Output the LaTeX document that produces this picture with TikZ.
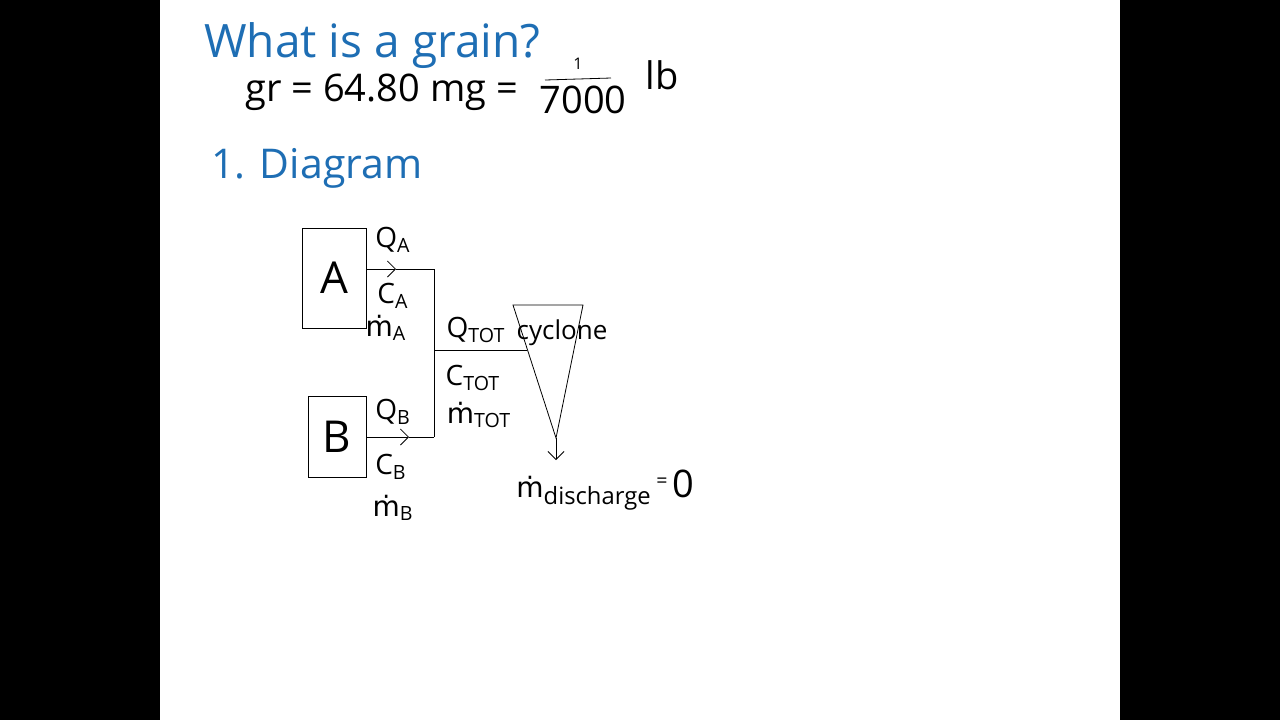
\documentclass[tikz,border=0pt]{standalone}
\usepackage{fontspec}
\setmainfont{Open Sans}
\newfontfamily\dotfont{DejaVu Sans}
\usetikzlibrary{arrows.meta}
\definecolor{inkblue}{RGB}{30,110,180}
\newcommand{\mdot}{{\dotfont ṁ}}
\tikzset{>={Straight Barb[length=4pt,width=8pt]},line width=1pt}
\tikzset{head/.style={text=inkblue,font=\fontsize{23}{25}\selectfont,inner sep=0pt},
  eqn/.style={font=\fontsize{19}{21}\selectfont,inner sep=0pt},
  lbl/.style={font=\fontsize{14}{16}\selectfont,inner sep=0pt},
  box/.style={draw,font=\fontsize{22}{24}\selectfont}}

\begin{document}
\begin{tikzpicture}[x=0.5pt,y=-0.5pt]
\fill[black] (0,0) rectangle (1280,720);
\fill[white] (160,0) rectangle (1120,720);
% heading
\node[head,anchor=west] (title) at (204,46) {What is a grain?};
\node[eqn,anchor=west] (gr) at (245,92) {gr = 64.80 mg =};
\node[eqn] (num) at (578,64) {\footnotesize 1};
\coordinate (barL) at (545,80);
\coordinate (barR) at (611,78);
\draw (barL) -- (barR);
\node[eqn] (den) at (583,100) {7000};
\node[eqn] (lb) at (662,75) {lb};
\node[head,anchor=west,font=\fontsize{20.5}{23}\selectfont] (sec) at (211,168) {1. Diagram};
% sources
\node[box,minimum width=32pt,minimum height=50pt] (A) at (334,278) {A};
\node[box,minimum width=29pt,minimum height=40.5pt] (B) at (337,437) {B};
\coordinate (jA) at (434,269);
\coordinate (jB) at (434,437);
\coordinate (jM) at (434,350);
\coordinate (aA) at (396,269);
\coordinate (aB) at (409,437);
\draw[->] (A.east |- jA) -- (aA);
\draw (aA) -- (jA) -- (jB);
\draw[->] (B.east |- jB) -- (aB);
\draw (aB) -- (jB);
% cyclone
\coordinate (ctl) at (513,305);
\coordinate (ctr) at (583,305);
\coordinate (apex) at (556,438);
\coordinate (cin) at (527,350);
\coordinate (cout) at (556,460);
\draw (ctl) -- (ctr) -- (apex) -- cycle;
\draw (jM) -- (cin);
\draw[->] (apex) -- (cout);
% labels
\node[lbl] (QA) at (393,240) {Q\textsubscript{A}};
\node[lbl] (CA) at (393,296) {C\textsubscript{A}};
\node[lbl] (mA) at (386,328) {\mdot\textsubscript{A}};
\node[lbl] (QB) at (393,412) {Q\textsubscript{B}};
\node[lbl] (CB) at (391,467) {C\textsubscript{B}};
\node[lbl] (mB) at (393,508) {\mdot\textsubscript{B}};
\node[lbl] (QT) at (476,330) {Q\textsubscript{TOT}};
\node[lbl] (CT) at (473,378) {C\textsubscript{TOT}};
\node[lbl] (mT) at (479,415) {\mdot\textsubscript{TOT}};
\node[lbl,font=\fontsize{13}{15}\selectfont] (cyc) at (562,333) {cyclone};
\node[lbl,anchor=west] (md) at (516,490) {\mdot{\fontsize{17}{19}\selectfont\textsubscript{discharge}}\,\textsuperscript{=}\hspace{2pt}{\fontsize{19}{21}\selectfont 0}};
\end{tikzpicture}
\end{document}
